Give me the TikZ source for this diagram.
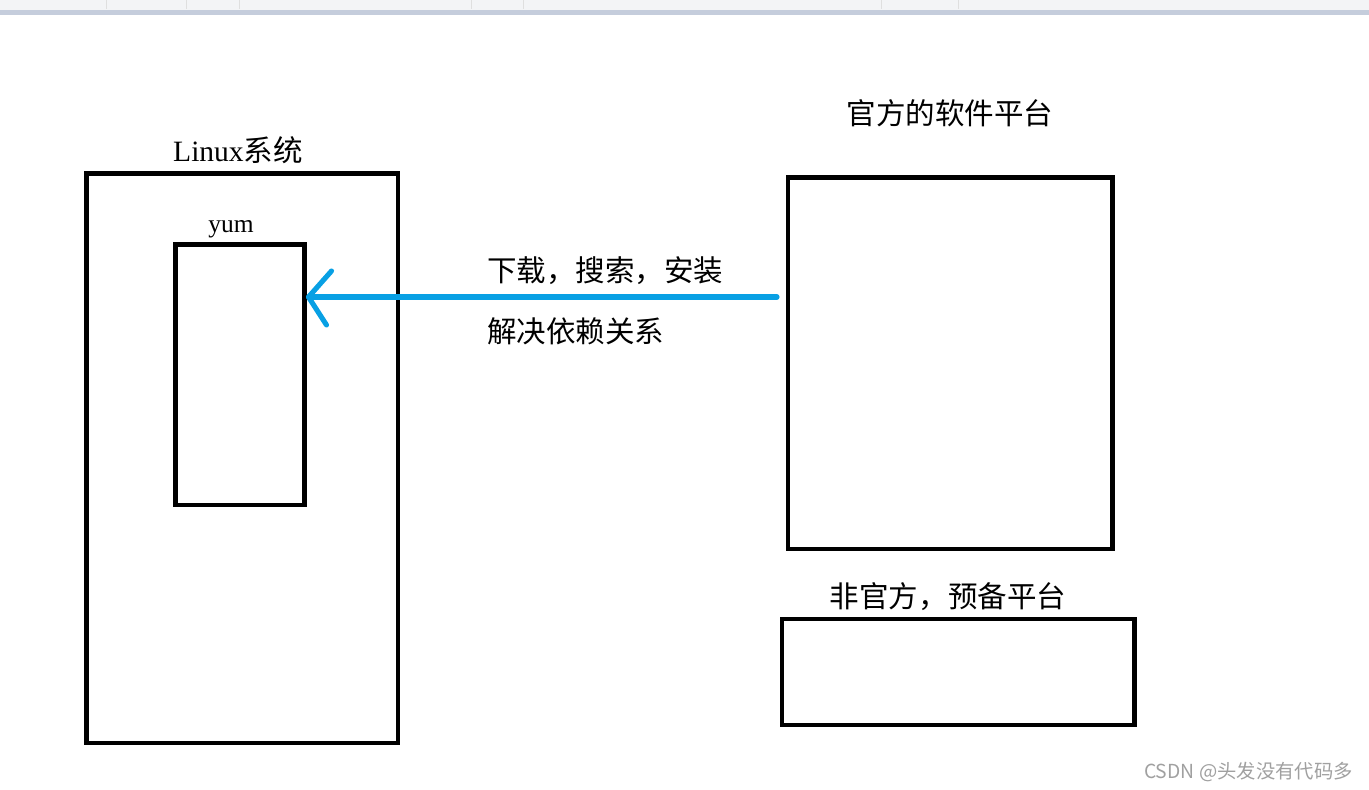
\documentclass[tikz,border=0pt]{standalone}
\usepackage{fontspec}
\setmainfont{Liberation Serif}
\newfontfamily\cjk{Noto Sans CJK SC}
\usetikzlibrary{calc}
\definecolor{arrowblue}{RGB}{8,160,228}
\definecolor{barback}{RGB}{243,244,246}
\definecolor{barline}{RGB}{197,205,220}
\definecolor{markgray}{RGB}{160,160,160}
\tikzstyle{frame}=[draw, line width=2.8pt, inner sep=0pt, outer sep=0pt]
\tikzstyle{boxtitle}=[inner sep=0pt, font=\fontsize{16.8}{20}\selectfont]
\tikzstyle{flow}=[line width=2.9pt, arrowblue, line cap=round, line join=round]
\newcommand{\platebox}[5]{
	\node[frame, minimum width={(#4-#2)*0.02cm}, minimum height={(#5-#3)*0.02cm}] (#1) at ({(#2+#4)/2},{(#3+#5)/2}) {};
}
\begin{document}
\begin{tikzpicture}[x=0.02cm, y=-0.02cm]
	\useasboundingbox (0,0) rectangle (1369,790);
	\fill[barback] (0,0) rectangle (1369,10);
	\fill[barline] (0,10) rectangle (1369,15);
	\foreach \x in {106,186,239,471,523,881,958}
		\draw[gray!25, line width=0.4pt] (\x,0) -- (\x,9);
	\platebox{linux}{86.5}{173.5}{398}{743}
	\platebox{yum}{175.5}{244.5}{304.5}{505}
	\platebox{official}{788}{177.5}{1112.5}{549}
	\platebox{backup}{782}{619}{1134.5}{725}
	\node[boxtitle] (linuxtitle) at (238,150) {Linux{\cjk 系统}};
	\node[boxtitle, font=\fontsize{14.5}{16}\selectfont] (yumtitle) at (231,229) {yum};
	\node[boxtitle] (officialtitle) at (950,113) {\cjk 官方的软件平台};
	\node[boxtitle] (backuptitle) at (948,597) {\cjk 非官方，预备平台};
	\coordinate (src) at ($(official.west |- 0,297)+(-11,0)$);
	\coordinate (tip) at ($(yum.east |- src)+(4,0)$);
	\draw[flow] (src) -- (tip);
	\draw[flow] ($(tip)+(23,-26)$) -- (tip) -- ($(tip)+(18,28)$);
	\node[boxtitle, anchor=west] (fetch) at (487,271) {\cjk 下载，搜索，安装};
	\node[boxtitle, anchor=west] (deps) at (487,331) {\cjk 解决依赖关系};
	\node[inner sep=0pt, anchor=east, markgray, font=\fontsize{11}{13}\selectfont\cjk] (mark) at (1353,772) {CSDN @头发没有代码多};
\end{tikzpicture}
\end{document}
